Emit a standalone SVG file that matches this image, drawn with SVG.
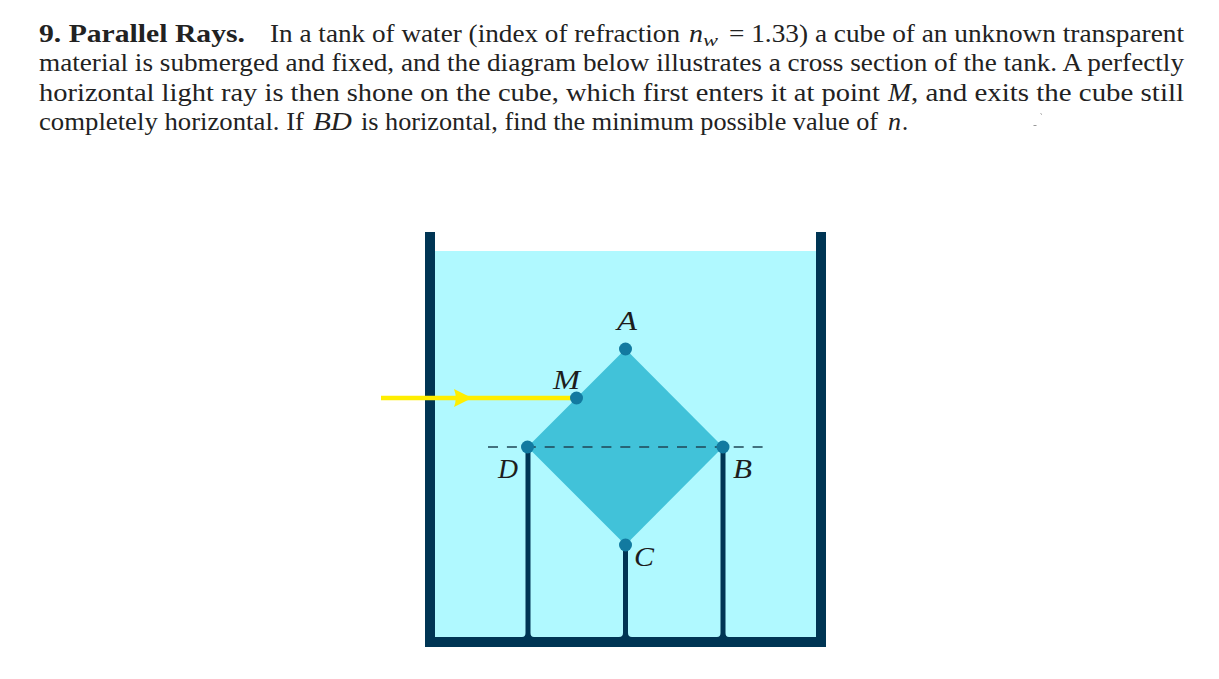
<svg xmlns="http://www.w3.org/2000/svg" width="1219" height="679" viewBox="0 0 1219 679">
<style>
text{font-family:"Liberation Serif","Times New Roman",serif;fill:#222;}
.t{font-size:24.500px;}
.b{font-weight:bold;}
.i{font-style:italic;}
.l{font-size:28px;font-style:italic;fill:#1d1d1d;}
.dark{fill:#003554;}
.dot{fill:#127AA0;}
</style>
<rect width="1219" height="679" fill="#fff"/>
<g id="statement">
<text class="t b" x="39" y="41.500" textLength="206" lengthAdjust="spacingAndGlyphs">9. Parallel Rays.</text>
<text class="t" x="270" y="41.500" textLength="410" lengthAdjust="spacingAndGlyphs">In a tank of water (index of refraction</text>
<text class="t i" x="689" y="41.500" textLength="14" lengthAdjust="spacingAndGlyphs">n</text>
<text class="i" style="font-size:17px" x="703" y="45.500" textLength="15" lengthAdjust="spacingAndGlyphs">w</text>
<text class="t" x="729" y="41.500" textLength="455" lengthAdjust="spacingAndGlyphs">= 1.33) a cube of an unknown transparent</text>
<text class="t" x="39" y="71" textLength="1145" lengthAdjust="spacingAndGlyphs">material is submerged and fixed, and the diagram below illustrates a cross section of the tank. A perfectly</text>
<text class="t" x="39" y="100.500" textLength="841" lengthAdjust="spacingAndGlyphs">horizontal light ray is then shone on the cube, which first enters it at point</text>
<text class="t i" x="888" y="100.500" textLength="23" lengthAdjust="spacingAndGlyphs">M</text>
<text class="t" x="911" y="100.500" textLength="273" lengthAdjust="spacingAndGlyphs">, and exits the cube still</text>
<text class="t" x="39" y="130" textLength="265" lengthAdjust="spacingAndGlyphs">completely horizontal. If</text>
<text class="t i" x="313" y="130" textLength="39" lengthAdjust="spacingAndGlyphs">BD</text>
<text class="t" x="361" y="130" textLength="517" lengthAdjust="spacingAndGlyphs">is horizontal, find the minimum possible value of</text>
<text class="t i" x="888" y="130" textLength="13" lengthAdjust="spacingAndGlyphs">n</text>
<text class="t" x="902" y="130">.</text>
</g>
<g id="specks" stroke="#999" stroke-width="1" fill="none">
<path d="M1040.500 113.500l1.500 1"/>
<path d="M1033.500 125.500h3"/>
</g>
<g id="tank">
<rect x="435" y="251" width="381" height="386" fill="#B0F9FF"/>
<path class="dark" d="M425 232H435V637H522Q525.500 637 525.500 633V447H530.500V633Q530.500 637 534 637H619Q623 637 623 633V545H628V633Q628 637 632 637H717Q720.500 637 720.500 633V447H725.500V633Q725.500 637 729 637H816V232H826V647H425Z"/>
</g>
<g id="cube">
<path d="M625.500 349L723 447L625.500 545L527.500 447Z" fill="#41C2D9"/>
</g>
<g id="connectors">
<line id="bd-line" x1="488" y1="447" x2="763" y2="447" stroke="#1f4655" stroke-width="1.500" stroke-dasharray="10 8.900"/>
<g id="ray">
<line x1="381" y1="398" x2="576" y2="398" stroke="#FFEE00" stroke-width="4.500"/>
<path d="M454 389L472 398L454 407Q457.500 398 454 389Z" fill="#FFEE00"/>
</g>
</g>
<g id="point-A"><circle class="dot" cx="625.500" cy="349" r="6.500"/><text class="l" x="617" y="329.500" textLength="20" lengthAdjust="spacingAndGlyphs">A</text></g>
<g id="point-M"><circle class="dot" cx="576.500" cy="398" r="6.500"/><text class="l" x="553" y="389" textLength="27" lengthAdjust="spacingAndGlyphs">M</text></g>
<g id="point-D"><circle class="dot" cx="527.500" cy="447" r="6.500"/><text class="l" x="498" y="477.500" textLength="20" lengthAdjust="spacingAndGlyphs">D</text></g>
<g id="point-B"><circle class="dot" cx="723" cy="447" r="6.500"/><text class="l" x="733" y="477.500" textLength="19" lengthAdjust="spacingAndGlyphs">B</text></g>
<g id="point-C"><circle class="dot" cx="625.500" cy="545" r="6.500"/><text class="l" x="634" y="566" textLength="20" lengthAdjust="spacingAndGlyphs">C</text></g>
</svg>
